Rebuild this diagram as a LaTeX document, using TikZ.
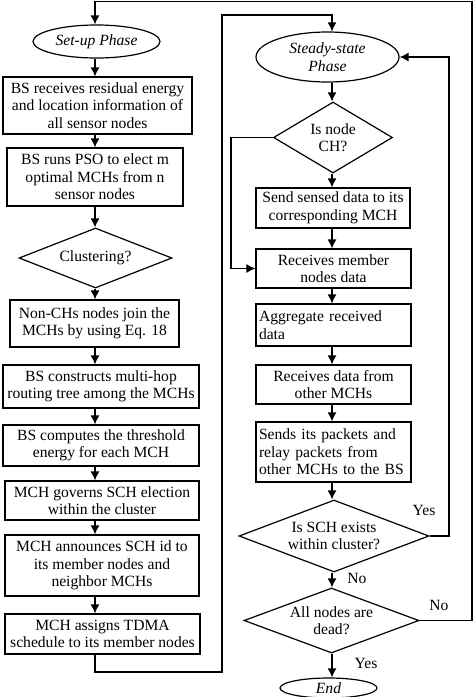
\documentclass[tikz,border=0pt]{standalone}
\usepackage{fontspec}
\setmainfont{Liberation Serif}
\usetikzlibrary{shapes.geometric,arrows.meta}

\begin{document}
\begin{tikzpicture}[x=1pt, y=-1pt, line width=1.2pt,
	font=\fontsize{15.6}{17.5}\selectfont,
	bstyle/.style={rectangle, draw, inner sep=2pt, align=center},
	dstyle/.style={diamond, draw, inner sep=0pt, align=center},
	estyle/.style={ellipse, draw, inner sep=0pt, align=center,
	font=\fontsize{15.6}{17.5}\selectfont\itshape},
	arr/.style={-{Latex[length=9pt,width=9pt]}}
	]
	\useasboundingbox (0,0) rectangle (474,697);
	\coordinate (lc) at (95,0);
	\coordinate (rc) at (332,0);
	% set-up phase
	\draw(96.5,41.5)node[estyle, minimum width=127, minimum height=33] (setup) {Set-up Phase};
	\draw(97.5,105.5)node[bstyle, minimum width=189, minimum height=57] (recv) {BS receives residual energy\\and location information of\\all sensor nodes};
	\draw(95,177)node[bstyle, minimum width=176, minimum height=58] (pso) {BS runs PSO to elect m\\optimal MCHs from n\\sensor nodes};
	\draw(95.5,258)node[dstyle, minimum width=153, minimum height=60, shape aspect=2.55] (clus) {Clustering?};
	\draw(94.5,323.5)node[bstyle, minimum width=169, minimum height=47] (join) {Non-CHs nodes join the\\MCHs by using Eq. 18};
	\draw(101,386.5)node[bstyle, minimum width=196, minimum height=43] (tree) {BS constructs multi-hop\\routing tree among the MCHs};
	\draw(101,445.5)node[bstyle, minimum width=196, minimum height=41] (thr) {BS computes the threshold\\energy for each MCH};
	\draw(102,500.5)node[bstyle, minimum width=194, minimum height=39] (gov) {MCH governs SCH election\\within the cluster};
	\draw(102,565.5)node[bstyle, minimum width=194, minimum height=61] (ann) {MCH announces SCH id to\\its member nodes and\\neighbor MCHs};
	\draw(102.5,634)node[bstyle, minimum width=195, minimum height=40] (tdma) {MCH assigns TDMA\\schedule to its member nodes};
	% steady-state phase
	\draw(327.5,57)node[estyle, minimum width=143, minimum height=50] (steady) {Steady-state\\Phase};
	\draw(333,137.5)node[dstyle, minimum width=119, minimum height=71, shape aspect=1.68] (isch) {Is node\\CH?};
	\draw(333,208)node[bstyle, minimum width=154, minimum height=40] (send) {Send sensed data to its\\corresponding MCH};
	\draw(333.5,268.5)node[bstyle, minimum width=155, minimum height=39] (memb) {Receives member\\nodes data};
	\draw(333.5,325)node[bstyle, minimum width=155, minimum height=42, align=left, text width=149, inner xsep=3pt] (aggr) {Aggregate received\\data};
	\draw(333.5,384.5)node[bstyle, minimum width=155, minimum height=39] (rdata) {Receives data from\\other MCHs};
	\draw(333.5,452)node[bstyle, minimum width=155, minimum height=60, align=left, text width=149, inner xsep=3pt] (relay) {Sends its packets and\\relay packets from\\other MCHs to the BS};
	\draw(334,536)node[dstyle, minimum width=190, minimum height=72, shape aspect=2.64] (sch) {Is SCH exists\\within cluster?};
	\draw(331.5,620.5)node[dstyle, minimum width=175, minimum height=65, shape aspect=2.69] (dead) {All nodes are\\dead?};
	\draw(328.5,688)node[estyle, minimum width=97, minimum height=20] (fin) {End};
	% labels
	\draw(424,510)node (yes1) {Yes};
	\draw(357,578)node (no1) {No};
	\draw(439,605)node (no2) {No};
	\draw(366,663)node (yes2) {Yes};
	% left column arrows
	\draw[arr] (setup.south -| lc) -- (recv.north -| lc);
	\draw[arr] (recv.south -| lc) -- (pso.north -| lc);
	\draw[arr] (pso.south -| lc) -- (clus.north -| lc);
	\draw[arr] (clus.south -| lc) -- (join.north -| lc);
	\draw[arr] (join.south -| lc) -- (tree.north -| lc);
	\draw[arr] (tree.south -| lc) -- (thr.north -| lc);
	\draw[arr] (thr.south -| lc) -- (gov.north -| lc);
	\draw[arr] (gov.south -| lc) -- (ann.north -| lc);
	\draw[arr] (ann.south -| lc) -- (tdma.north -| lc);
	% right column arrows
	\draw[arr] (steady.south -| rc) -- (isch.north -| rc);
	\draw[arr] (isch.south -| rc) -- (send.north -| rc);
	\draw[arr] (send.south -| rc) -- (memb.north -| rc);
	\draw[arr] (memb.south -| rc) -- (aggr.north -| rc);
	\draw[arr] (aggr.south -| rc) -- (rdata.north -| rc);
	\draw[arr] (rdata.south -| rc) -- (relay.north -| rc);
	\draw[arr] (relay.south -| rc) -- (sch.north -| rc);
	\draw[arr] (sch.south -| rc) -- (dead.north -| rc);
	\draw[arr] (dead.south -| rc) -- (fin.north -| rc);
	% loops
	\draw[arr] (isch.west) -- ++(-42,0) |- (memb.west);
	\draw[arr] (sch.east) -| (449,57) -- (steady.east);
	\draw[arr] (tdma.south -| lc) -- (95,672) -- (222,672) -- (222,15) -- (332,15) -- (steady.north -| rc);
	\draw[arr] (dead.east) -- (472,620.5) -- (472,1.5) -- (95,1.5) -- (setup.north -| lc);
\end{tikzpicture}
\end{document}
